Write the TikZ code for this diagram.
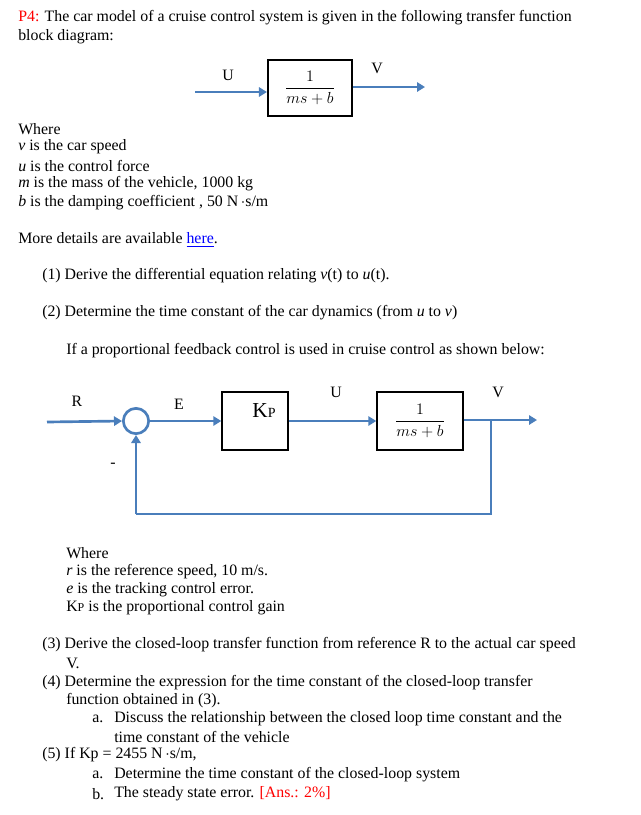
\documentclass[tikz,border=0pt]{standalone}
\usepackage{amsmath}
\usepackage{fontspec}
\setmainfont{Liberation Serif}
\usetikzlibrary{arrows.meta}
\definecolor{lblue}{HTML}{4A7EBB}
\tikzset{
  txt/.style={anchor=west,inner sep=0pt,font=\fontsize{11.9}{14}\selectfont},
  lbl/.style={inner sep=0pt,font=\fontsize{11.9}{14}\selectfont},
  blk/.style={draw,line width=1.6pt,inner sep=0pt,font=\fontsize{12}{14}\selectfont},
  sig/.style={lblue,line width=2pt},
  arr/.style={sig,-{Triangle[length=6pt,width=7pt]}}
}
\begin{document}
\begin{tikzpicture}[x=0.75pt,y=-0.75pt]
\useasboundingbox (0,0) rectangle (640,815);
\node[txt] (t1) at (18,18) {\textcolor{red}{P4:} The car model of a cruise control system is given in the following transfer function};
\node[txt] (t2) at (18,37) {block diagram:};
% top block
\node[blk,minimum width=63pt,minimum height=42pt] (g0) at (310,88) {$\dfrac{1}{ms+b}$};
\coordinate (u0) at (195,92);
\coordinate (v0) at (425,87);
\draw[arr] (u0) -- (u0 -| g0.west);
\draw[arr] (v0 -| g0.east) -- (v0);
\node[lbl] (lu0) at (228,75) {U};
\node[lbl] (lv0) at (377,68) {V};
\node[txt] (w1) at (18,129) {Where};
\node[txt] (w2) at (18,147) {\textit{v} is the car speed};
\node[txt] (w3) at (18,166) {\textit{u} is the control force};
\node[txt] (w4) at (18,184) {\textit{m} is the mass of the vehicle, 1000 kg};
\node[txt] (w5) at (18,203) {\textit{b} is the damping coefficient , 50 N\,$\cdot$s/m};
\node[txt] (md) at (18,240) {More details are available \textcolor{blue}{\underline{here}}.};
\node[txt] (q1) at (42,276) {(1) Derive the differential equation relating \textit{v}(t) to \textit{u}(t).};
\node[txt] (q2) at (42,313) {(2) Determine the time constant of the car dynamics (from \textit{u} to \textit{v})};
\node[txt] (q3) at (66,351) {If a proportional feedback control is used in cruise control as shown below:};
% feedback diagram
\node[circle,draw=lblue,line width=2pt,minimum size=19pt,inner sep=0pt] (sum) at (136,421) {};
\node[blk,minimum width=49pt,minimum height=43pt] (kp) at (255,421) {};
\node[inner sep=0pt,font=\fontsize{16}{16}\selectfont] (kpt) at (264,411) {K{\fontsize{10.5}{10}\selectfont P}};
\node[blk,minimum width=64pt,minimum height=43pt] (g1) at (420,421) {$\dfrac{1}{ms+b}$};
\coordinate (rin) at (47,422);
\coordinate (vout) at (537,420);
\coordinate (br) at (491,420);
\coordinate (bb) at (491,514);
\coordinate (bl) at (136,514);
\draw[arr] (rin) -- (sum.west);
\draw[arr] (sum.east) -- (kp.west);
\draw[arr] (kp.east) -- (g1.west);
\draw[arr] (g1.east |- vout) -- (vout);
\draw[sig] (br) -- (bb) -- (bl);
\draw[arr] (bl) -- (sum.south);
\node[lbl] (lr) at (77,401) {R};
\node[lbl] (le) at (179,404) {E};
\node[lbl] (lu1) at (336,392) {U};
\node[lbl] (lv1) at (498,392) {V};
\node[lbl] (minus) at (113,465) {-};
\node[txt] (x1) at (66,553) {Where};
\node[txt] (x2) at (66,572) {\textit{r} is the reference speed, 10 m/s.};
\node[txt] (x3) at (66,590) {\textit{e} is the tracking control error.};
\node[txt] (x4) at (66,608) {K{\fontsize{9}{9}\selectfont P} is the proportional control gain};
\node[txt] (p3) at (42,645) {(3) Derive the closed-loop transfer function from reference R to the actual car speed};
\node[txt] (p3b) at (66,663) {V.};
\node[txt] (p4) at (42,683) {(4) Determine the expression for the time constant of the closed-loop transfer};
\node[txt] (p4b) at (66,701) {function obtained in (3).};
\node[txt] (p4a) at (92,719) {a.};
\node[txt] (p4at) at (114,719) {Discuss the relationship between the closed loop time constant and the};
\node[txt] (p4at2) at (114,737) {time constant of the vehicle};
\node[txt] (p5) at (42,755) {(5) If Kp = 2455 N\,$\cdot$s/m,};
\node[txt] (p5a) at (92,775) {a.};
\node[txt] (p5at) at (114,775) {Determine the time constant of the closed-loop system};
\node[txt] (p5b) at (92,794) {b.};
\node[txt] (p5bt) at (114,794) {The steady state error. \textcolor{red}{[Ans.: 2\%]}};
\end{tikzpicture}
\end{document}
